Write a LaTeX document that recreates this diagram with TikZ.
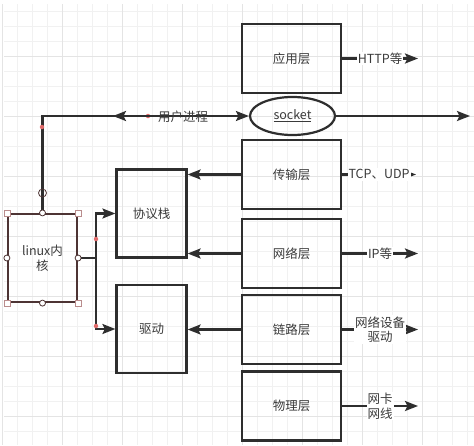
\documentclass[tikz,border=0pt]{standalone}
\usepackage{fontspec}
\setmainfont{Noto Sans CJK SC}
\usepackage{tikz}
\usetikzlibrary{positioning, arrows.meta, shapes}
\usepackage{xcolor}
\definecolor{linecolor}{HTML}{2E2E2E}
\definecolor{textcolor}{HTML}{3A3A3A}
\definecolor{gridminor}{HTML}{F1F1F1}
\definecolor{gridmajor}{HTML}{E4E4E4}
\definecolor{selcolor}{HTML}{4D3434}
\definecolor{handlecolor}{HTML}{B98C8C}
\definecolor{dotcolor}{HTML}{E06A6A}
\newcommand{\layerw}{99pt}
\newcommand{\layerh}{69pt}

\begin{document}
\begin{tikzpicture}[
      % GLOBAL CFG
      x=1pt, y=-1pt,
      font=\fontsize{12.5}{14.5}\selectfont,
      text=textcolor,
      >={Stealth[length=13pt,width=10pt,inset=2.5pt]},
      % Styles
      layer/.style={% For the protocol layers
        rectangle,
        draw=linecolor,
        line width=2.2pt,
        minimum height=\layerh,
        minimum width=\layerw
      },
      part/.style={% For the kernel parts
        rectangle,
        draw=linecolor,
        line width=2.2pt,
        minimum height=88pt,
        minimum width=70pt
      },
      proto/.style={% Labels on the outgoing arrows
        fill=white,
        inner sep=1pt,
        align=center
      },
      handle/.style={% Selection handles
        circle,
        draw=selcolor,
        fill=white,
        line width=0.8pt,
        minimum size=6pt,
        inner sep=0pt
      },
      corner/.style={
        rectangle,
        draw=handlecolor,
        fill=white,
        line width=0.8pt,
        minimum size=6pt,
        inner sep=0pt
      },
      waypoint/.style={
        circle,
        fill=dotcolor,
        minimum size=4.5pt,
        inner sep=0pt
      },
      arrowfunction/.style={% Connectors
        draw=linecolor,
        line width=2.2pt,
        ->,
      }
      ]

      \useasboundingbox (0,0) rectangle (474,445);
      % Grid in the background
      \foreach \gx in {2.3,17.3,...,474} {
        \draw [gridminor, line width=0.9pt] (\gx,4) -- (\gx,445);
      }
      \foreach \gy in {11.7,26.7,...,445} {
        \draw [gridminor, line width=0.9pt] (4,\gy) -- (474,\gy);
      }
      \foreach \gx in {2.3,62.3,...,474} {
        \draw [gridmajor, line width=0.9pt] (\gx,4) -- (\gx,445);
      }
      \foreach \gy in {56.7,116.7,...,445} {
        \draw [gridmajor, line width=0.9pt] (4,\gy) -- (474,\gy);
      }

      % Right column: the layers
      \node [layer] (app) at (291.5,58.5) {应用层};
      \node [ellipse, draw=linecolor, line width=2.2pt, minimum width=85pt,
             minimum height=38pt, inner sep=0pt] (socket) at (292.5,116) {\underline{socket}};
      \node [layer] (transport) at (291.5,174.5) {传输层};
      \node [layer] (network) at (291.5,253.5) {网络层};
      \node [layer] (link) at (291.5,329.5) {链路层};
      \node [layer] (physical) at (291.5,406) {物理层};

      % Middle column
      \node [part] (stack) at (151.5,213.5) {协议栈};
      \node [part] (driver) at (151.5,329) {驱动};

      % The kernel, drawn selected
      \node [part, draw=selcolor, minimum width=69pt, align=center] (kernel) at (42.5,258) {linux内\\核};

      % Kernel up to the socket
      \node [waypoint] (procdot) at (148,116) {};
      \coordinate (uptip) at (113,116);
      \draw [arrowfunction] (kernel.north) |- (socket.west);
      \draw [arrowfunction] (procdot) -- (uptip);
      \node [inner sep=0pt] (proc) at (183,117) {用户进程};
      \node [waypoint] (updot) at (42,127) {};
      \coordinate (sockout) at (470,116);
      \draw [arrowfunction] (socket.east) -- (sockout);

      % Kernel to its parts
      \coordinate (split) at (96,258);
      \draw [arrowfunction] (kernel.east) -- (split) |- (stack.west);
      \draw [arrowfunction] (split) |- (driver.west);
      \node [waypoint] (splitdot1) at (96,239) {};
      \node [waypoint] (splitdot2) at (96,326) {};

      % Layers down to the parts
      \draw [arrowfunction] (transport.west) -- (transport.west -| stack.east);
      \draw [arrowfunction] (network.west) -- (stack.east |- network.west);
      \draw [arrowfunction] (link.west) -- (link.west -| driver.east);

      % What each layer holds
      \coordinate (httpend) at (418,58.5);
      \coordinate (tcpend) at (416,174.5);
      \coordinate (ipend) at (418,253.5);
      \coordinate (devend) at (418,329.5);
      \coordinate (nicend) at (418,406);
      \draw [arrowfunction] (app.east) -- (httpend) node [proto, midway] (http) {HTTP等};
      \draw [arrowfunction] (transport.east) -- (tcpend) node [proto, midway] (tcp) {TCP、UDP};
      \draw [arrowfunction] (network.east) -- (ipend) node [proto, midway] (ip) {IP等};
      \draw [arrowfunction] (link.east) -- (devend) node [proto, midway] (dev) {网络设备\\驱动};
      \draw [arrowfunction] (physical.east) -- (nicend) node [proto, midway] (nic) {网卡\\网线};

      % Selection handles on the kernel
      \node [handle, minimum size=8pt, fill=none] (rotate) at (42.5,193) {};
      \foreach \h in {north, south, east, west} {
        \node [handle] at (kernel.\h) {};
      }
      \foreach \c in {north east, north west, south east, south west} {
        \node [corner] at (kernel.\c) {};
      }

    \end{tikzpicture}
\end{document}
